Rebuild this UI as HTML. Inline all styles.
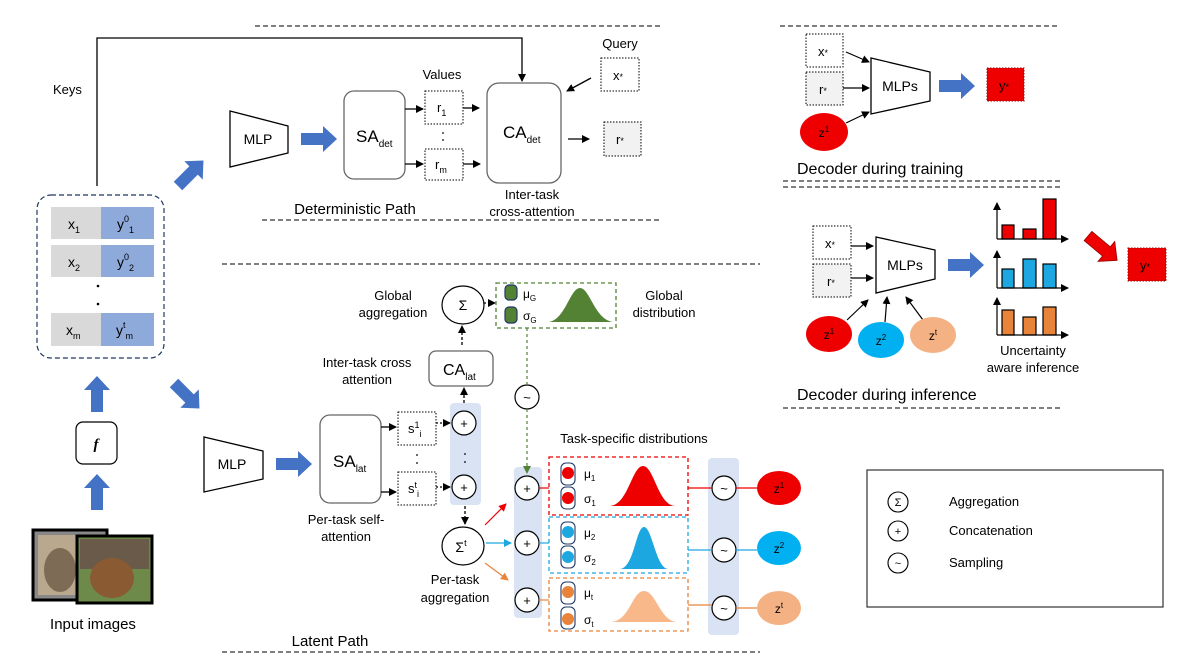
<!DOCTYPE html>
<html><head><meta charset="utf-8"><style>
html,body{margin:0;padding:0;background:#fff;}
svg{display:block;font-family:"Liberation Sans",Arial,sans-serif;}
</style></head><body>
<svg width="1192" height="658" viewBox="0 0 1192 658" xmlns="http://www.w3.org/2000/svg">
<defs>
<marker id="ah" markerWidth="8" markerHeight="8" refX="7" refY="4" orient="auto" markerUnits="userSpaceOnUse"><path d="M0,0 L8,4 L0,8 z" fill="#000"/></marker>
<marker id="ahg" markerWidth="8" markerHeight="8" refX="7" refY="4" orient="auto" markerUnits="userSpaceOnUse"><path d="M0,0 L8,4 L0,8 z" fill="#548235"/></marker>
<marker id="ahr" markerWidth="8" markerHeight="8" refX="7" refY="4" orient="auto" markerUnits="userSpaceOnUse"><path d="M0,0 L8,4 L0,8 z" fill="#e00"/></marker>
<marker id="ahb" markerWidth="8" markerHeight="8" refX="7" refY="4" orient="auto" markerUnits="userSpaceOnUse"><path d="M0,0 L8,4 L0,8 z" fill="#1ca7e0"/></marker>
<marker id="aho" markerWidth="8" markerHeight="8" refX="7" refY="4" orient="auto" markerUnits="userSpaceOnUse"><path d="M0,0 L8,4 L0,8 z" fill="#e8833a"/></marker>
<polygon id="barr" points="0,-6 22,-6 22,-13 36,0 22,13 22,6 0,6" fill="#4472c4"/>
</defs>

<!-- dashed separators -->
<g stroke="#333" stroke-width="1.2" stroke-dasharray="5,3">
<line x1="255" y1="26" x2="660" y2="26"/>
<line x1="262" y1="220" x2="660" y2="220"/>
<line x1="222" y1="264" x2="760" y2="264"/>
<line x1="222" y1="652" x2="760" y2="652"/>
<line x1="780" y1="26" x2="1060" y2="26"/>
<line x1="783" y1="181" x2="1063" y2="181"/>
<line x1="783" y1="187" x2="1063" y2="187"/>
<line x1="783" y1="408" x2="1063" y2="408"/>
</g>

<!-- Keys line -->
<polyline points="97,186 97,38 522,38 522,81" fill="none" stroke="#000" stroke-width="1.3" marker-end="url(#ah)"/>
<text x="53" y="94" font-size="13">Keys</text>

<!-- context box -->
<rect x="37" y="195" width="127" height="163" rx="14" fill="none" stroke="#1f3864" stroke-width="1.2" stroke-dasharray="5,3"/>
<g font-size="14">
<rect x="51" y="207" width="50" height="32" fill="#d9d9d9"/><rect x="101" y="207" width="53" height="32" fill="#8eaadb"/>
<rect x="51" y="245" width="50" height="32" fill="#d9d9d9"/><rect x="101" y="245" width="53" height="32" fill="#8eaadb"/>
<rect x="51" y="313" width="50" height="33" fill="#d9d9d9"/><rect x="101" y="313" width="53" height="33" fill="#8eaadb"/>
<text x="68" y="229">x<tspan font-size="9" dy="4">1</tspan></text>
<text x="117" y="229">y<tspan font-size="9" dy="-7">0</tspan><tspan font-size="9" dy="11">1</tspan></text>
<text x="68" y="267">x<tspan font-size="9" dy="4">2</tspan></text>
<text x="117" y="267">y<tspan font-size="9" dy="-7">0</tspan><tspan font-size="9" dy="11">2</tspan></text>
<text x="66" y="335">x<tspan font-size="9" dy="4">m</tspan></text>
<text x="116" y="335">y<tspan font-size="9" dy="-7">t</tspan><tspan font-size="9" dy="11">m</tspan></text>
</g>
<circle cx="98" cy="286" r="1.3"/><circle cx="98" cy="304" r="1.3"/>

<!-- blue arrows left -->
<use href="#barr" transform="translate(178,186) rotate(-45)"/>
<use href="#barr" transform="translate(174,383) rotate(45)"/>
<use href="#barr" transform="translate(97,412) rotate(-90)"/>
<use href="#barr" transform="translate(97,510) rotate(-90)"/>
<rect x="76" y="422" width="41" height="42" rx="7" fill="#fff" stroke="#000" stroke-width="1.2"/>
<text x="96" y="449" font-size="15" font-style="italic" font-weight="bold" text-anchor="middle" font-family="Liberation Serif,serif">f</text>

<!-- input images -->
<rect x="33" y="530" width="74" height="70" fill="#888" stroke="#000" stroke-width="3"/>
<rect x="38" y="535" width="64" height="60" fill="#b9a88e"/>
<ellipse cx="60" cy="570" rx="16" ry="22" fill="#7d6b55"/>
<rect x="77" y="536" width="75" height="67" fill="#6e8a4a" stroke="#000" stroke-width="3"/>
<rect x="80" y="539" width="69" height="30" fill="#6a5a4a"/>
<ellipse cx="112" cy="578" rx="22" ry="20" fill="#8a5a32"/>
<text x="93" y="629" font-size="15" text-anchor="middle">Input images</text>

<!-- Deterministic path -->
<polygon points="230,111 288,126 288,153 230,167" fill="#fff" stroke="#000" stroke-width="1.3"/>
<text x="258" y="144" font-size="14" text-anchor="middle">MLP</text>
<use href="#barr" transform="translate(301,139)"/>
<rect x="344" y="91" width="61" height="88" rx="10" fill="#fff" stroke="#666" stroke-width="1.3"/>
<text x="356" y="142" font-size="17">SA<tspan font-size="10" dy="5">det</tspan></text>
<text x="442" y="79" font-size="13" text-anchor="middle">Values</text>
<rect x="425" y="91" width="38" height="33" fill="#fff" stroke="#000" stroke-dasharray="1.5,1.5"/>
<rect x="425" y="149" width="38" height="31" fill="#fff" stroke="#000" stroke-dasharray="1.5,1.5"/>
<text x="437" y="112" font-size="13">r<tspan font-size="9" dy="4">1</tspan></text>
<text x="435" y="169" font-size="13">r<tspan font-size="9" dy="4">m</tspan></text>
<circle cx="443" cy="133" r="0.9"/><circle cx="443" cy="140" r="0.9"/>
<g stroke="#000" stroke-width="1.3" fill="none">
<line x1="405" y1="109" x2="423" y2="109" marker-end="url(#ah)"/>
<line x1="405" y1="164" x2="423" y2="164" marker-end="url(#ah)"/>
<line x1="463" y1="108" x2="479" y2="108" marker-end="url(#ah)"/>
<line x1="463" y1="164" x2="480" y2="164" marker-end="url(#ah)"/>
<line x1="591" y1="78" x2="567" y2="91" marker-end="url(#ah)"/>
<line x1="568" y1="139" x2="589" y2="139" marker-end="url(#ah)"/>
</g>
<rect x="487" y="83" width="74" height="100" rx="12" fill="#fff" stroke="#666" stroke-width="1.3"/>
<text x="503" y="138" font-size="17">CA<tspan font-size="10" dy="5">det</tspan></text>
<text x="620" y="48" font-size="13" text-anchor="middle">Query</text>
<rect x="601" y="58" width="38" height="33" fill="#fff" stroke="#000" stroke-dasharray="1.5,1.5"/>
<text x="613" y="80" font-size="13">x<tspan font-size="9">*</tspan></text>
<rect x="604" y="122" width="37" height="34" fill="#f2f2f2" stroke="#000" stroke-dasharray="1.5,1.5"/>
<text x="616" y="144" font-size="13">r<tspan font-size="9">*</tspan></text>
<text x="532" y="199" font-size="13" text-anchor="middle">Inter-task</text>
<text x="532" y="216" font-size="13" text-anchor="middle">cross-attention</text>
<text x="355" y="214" font-size="15" text-anchor="middle">Deterministic Path</text>

<!-- Latent path -->
<polygon points="204,437 263,451 263,479 204,492" fill="#fff" stroke="#000" stroke-width="1.3"/>
<text x="232" y="469" font-size="14" text-anchor="middle">MLP</text>
<use href="#barr" transform="translate(276,464)"/>
<rect x="320" y="415" width="61" height="88" rx="10" fill="#fff" stroke="#666" stroke-width="1.3"/>
<text x="333" y="467" font-size="17">SA<tspan font-size="10" dy="5">lat</tspan></text>
<rect x="398" y="412" width="38" height="33" fill="#fff" stroke="#000" stroke-dasharray="1.5,1.5"/>
<rect x="398" y="472" width="38" height="33" fill="#fff" stroke="#000" stroke-dasharray="1.5,1.5"/>
<text x="408" y="433" font-size="13">s<tspan font-size="9" dy="-5">1</tspan><tspan font-size="9" dy="9">i</tspan></text>
<text x="408" y="493" font-size="13">s<tspan font-size="9" dy="-5">t</tspan><tspan font-size="9" dy="9">i</tspan></text>
<circle cx="417" cy="455" r="0.9"/><circle cx="417" cy="463" r="0.9"/>
<rect x="450" y="403" width="31" height="102" rx="4" fill="#dae3f3"/>
<rect x="514" y="467" width="28" height="151" rx="4" fill="#dae3f3"/>
<rect x="708" y="458" width="31" height="177" rx="4" fill="#dae3f3"/>
<g stroke="#000" stroke-width="1.3" fill="none">
<line x1="381" y1="427" x2="396" y2="427" marker-end="url(#ah)"/>
<line x1="381" y1="492" x2="396" y2="492" marker-end="url(#ah)"/>
<line x1="436" y1="423" x2="450" y2="423" stroke-dasharray="2,2" marker-end="url(#ah)"/>
<line x1="436" y1="487" x2="450" y2="487" stroke-dasharray="2,2" marker-end="url(#ah)"/>
<line x1="464" y1="403" x2="464" y2="388" stroke-dasharray="3,2" marker-end="url(#ah)"/>
<line x1="462" y1="345" x2="462" y2="326" stroke-dasharray="3,2" marker-end="url(#ah)"/>
<line x1="465" y1="506" x2="465" y2="524" stroke-dasharray="3,2" marker-end="url(#ah)"/>
<line x1="484" y1="303" x2="495" y2="303" stroke-dasharray="2,2" marker-end="url(#ah)"/>
</g>
<g fill="#fff" stroke="#000" stroke-width="1.2">
<circle cx="464" cy="423" r="12"/><circle cx="464" cy="487" r="12"/>
<circle cx="527" cy="488" r="12"/><circle cx="527" cy="543" r="12"/><circle cx="527" cy="600" r="12"/>
<circle cx="724" cy="488" r="12"/><circle cx="724" cy="550" r="12"/><circle cx="724" cy="608" r="12"/>
<circle cx="527" cy="397" r="12"/>
<ellipse cx="463" cy="305" rx="21" ry="19"/>
<ellipse cx="463" cy="546" rx="21" ry="19"/>
</g>
<g font-size="13" text-anchor="middle">
<text x="464" y="428">+</text><text x="464" y="492">+</text>
<text x="527" y="493">+</text><text x="527" y="548">+</text><text x="527" y="605">+</text>
<text x="724" y="493">~</text><text x="724" y="555">~</text><text x="724" y="613">~</text>
<text x="527" y="402">~</text>
<text x="463" y="310" font-size="14">Σ</text>
<text x="461" y="552" font-size="14">Σ<tspan font-size="9" dy="-6">t</tspan></text>
</g>
<circle cx="465" cy="454" r="0.9"/><circle cx="465" cy="462" r="0.9"/>
<rect x="429" y="351" width="64" height="35" rx="7" fill="#fff" stroke="#666" stroke-width="1.3"/>
<text x="443" y="375" font-size="16">CA<tspan font-size="10" dy="5">lat</tspan></text>
<g font-size="13" text-anchor="middle">
<text x="393" y="300">Global</text><text x="393" y="317">aggregation</text>
<text x="367" y="367">Inter-task cross</text><text x="367" y="384">attention</text>
<text x="346" y="524">Per-task self-</text><text x="346" y="541">attention</text>
<text x="455" y="584">Per-task</text><text x="455" y="602">aggregation</text>
<text x="664" y="300">Global</text><text x="664" y="317">distribution</text>
<text x="634" y="443">Task-specific distributions</text>
</g>
<text x="330" y="646" font-size="15" text-anchor="middle">Latent Path</text>

<!-- global distribution -->
<rect x="496" y="283" width="120" height="45" fill="#fff" stroke="#548235" stroke-width="1.3" stroke-dasharray="4,3"/>
<g stroke="#1f3864" stroke-width="1.2"><rect x="505" y="285" width="12" height="15" rx="4" fill="#548235"/><rect x="505" y="307" width="12" height="16" rx="4" fill="#548235"/></g>
<text x="523" y="298" font-size="12">μ<tspan font-size="8" dy="3">G</tspan></text>
<text x="523" y="320" font-size="12">σ<tspan font-size="8" dy="3">G</tspan></text>
<path d="M548,322 C565,321 570,288 580,288 C590,288 595,321 614,322 Z" fill="#548235"/>
<line x1="527" y1="328" x2="527" y2="385" stroke="#548235" stroke-width="1.2" stroke-dasharray="3,3"/>
<line x1="527" y1="409" x2="527" y2="473" stroke="#548235" stroke-width="1.2" stroke-dasharray="3,3" marker-end="url(#ahg)"/>

<!-- colored arrows from Σt -->
<line x1="485" y1="525" x2="506" y2="504" stroke="#e00" stroke-width="1.2" marker-end="url(#ahr)"/>
<line x1="486" y1="543" x2="511" y2="543" stroke="#1ca7e0" stroke-width="1.2" marker-end="url(#ahb)"/>
<line x1="485" y1="563" x2="508" y2="580" stroke="#e8833a" stroke-width="1.2" marker-end="url(#aho)"/>

<!-- task boxes -->
<rect x="549" y="457" width="139" height="58" fill="#fff" stroke="#e00" stroke-width="1.3" stroke-dasharray="4,3"/>
<rect x="549" y="517" width="139" height="56" fill="#fff" stroke="#1ca7e0" stroke-width="1.3" stroke-dasharray="4,3"/>
<rect x="549" y="578" width="139" height="53" fill="#fff" stroke="#e8833a" stroke-width="1.3" stroke-dasharray="4,3"/>
<g stroke="#1f3864" stroke-width="1.1">
<rect x="561" y="463" width="14" height="22" rx="5" fill="#fff"/><rect x="561" y="487" width="14" height="22" rx="5" fill="#fff"/>
<rect x="561" y="522" width="14" height="22" rx="5" fill="#fff"/><rect x="561" y="546" width="14" height="22" rx="5" fill="#fff"/>
<rect x="561" y="582" width="14" height="22" rx="5" fill="#fff"/><rect x="561" y="607" width="14" height="22" rx="5" fill="#fff"/>
</g>
<g stroke="none">
<circle cx="568" cy="473" r="6" fill="#e00"/><circle cx="568" cy="498" r="6" fill="#e00"/>
<circle cx="568" cy="532" r="6" fill="#1ca7e0"/><circle cx="568" cy="557" r="6" fill="#1ca7e0"/>
<circle cx="568" cy="592" r="6" fill="#e8833a"/><circle cx="568" cy="619" r="6" fill="#e8833a"/>
</g>
<g font-size="12">
<text x="584" y="478">μ<tspan font-size="8" dy="3">1</tspan></text><text x="584" y="503">σ<tspan font-size="8" dy="3">1</tspan></text>
<text x="584" y="537">μ<tspan font-size="8" dy="3">2</tspan></text><text x="584" y="562">σ<tspan font-size="8" dy="3">2</tspan></text>
<text x="584" y="597">μ<tspan font-size="8" dy="3">t</tspan></text><text x="584" y="624">σ<tspan font-size="8" dy="3">t</tspan></text>
</g>
<path d="M610,506 C628,505 632,466 643,466 C654,466 658,505 675,506 Z" fill="#e00"/>
<path d="M620,569 C634,568 636,527 644,527 C652,527 656,568 668,569 Z" fill="#1ca7e0"/>
<path d="M611,622 C630,621 632,591 644,591 C656,591 660,621 677,622 Z" fill="#f8b88a"/>
<g stroke-width="1.2">
<line x1="539" y1="488" x2="549" y2="488" stroke="#e00"/><line x1="688" y1="488" x2="712" y2="488" stroke="#e00"/><line x1="736" y1="488" x2="757" y2="488" stroke="#e00"/>
<line x1="539" y1="543" x2="549" y2="543" stroke="#1ca7e0"/><line x1="688" y1="550" x2="712" y2="550" stroke="#1ca7e0"/><line x1="736" y1="550" x2="757" y2="550" stroke="#1ca7e0"/>
<line x1="539" y1="600" x2="549" y2="600" stroke="#e8833a"/><line x1="688" y1="605" x2="712" y2="605" stroke="#e8833a"/><line x1="736" y1="608" x2="757" y2="608" stroke="#e8833a"/>
</g>
<ellipse cx="779" cy="488" rx="22" ry="17" fill="#e00"/>
<ellipse cx="779" cy="548" rx="22" ry="17" fill="#00b0f0"/>
<ellipse cx="779" cy="608" rx="22" ry="17" fill="#f4b183"/>
<g font-size="12" text-anchor="middle">
<text x="779" y="493">z<tspan font-size="8" dy="-5">1</tspan></text>
<text x="779" y="553">z<tspan font-size="8" dy="-5">2</tspan></text>
<text x="779" y="613">z<tspan font-size="8" dy="-5">t</tspan></text>
</g>

<!-- legend -->
<rect x="867" y="470" width="296" height="137" fill="#fff" stroke="#333" stroke-width="1.2"/>
<g fill="#fff" stroke="#000" stroke-width="1.1"><circle cx="898" cy="502" r="10"/><circle cx="898" cy="531" r="10"/><circle cx="898" cy="563" r="10"/></g>
<g font-size="11" text-anchor="middle"><text x="898" y="506">Σ</text><text x="898" y="535">+</text><text x="898" y="567">~</text></g>
<g font-size="13"><text x="949" y="506">Aggregation</text><text x="949" y="535">Concatenation</text><text x="949" y="567">Sampling</text></g>

<!-- Decoder training -->
<rect x="806" y="34" width="37" height="33" fill="#fff" stroke="#000" stroke-dasharray="1.5,1.5"/>
<rect x="806" y="72" width="37" height="33" fill="#f2f2f2" stroke="#000" stroke-dasharray="1.5,1.5"/>
<text x="818" y="56" font-size="13">x<tspan font-size="9">*</tspan></text>
<text x="819" y="94" font-size="13">r<tspan font-size="9">*</tspan></text>
<ellipse cx="824" cy="132" rx="24" ry="19" fill="#e00"/>
<text x="824" y="137" font-size="12" text-anchor="middle">z<tspan font-size="8" dy="-5">1</tspan></text>
<polygon points="871,58 930,72 930,101 871,114" fill="#fff" stroke="#000" stroke-width="1.3"/>
<text x="900" y="91" font-size="14" text-anchor="middle">MLPs</text>
<g stroke="#000" stroke-width="1.2">
<line x1="846" y1="52" x2="869" y2="62" marker-end="url(#ah)"/>
<line x1="843" y1="88" x2="869" y2="88" marker-end="url(#ah)"/>
<line x1="846" y1="123" x2="869" y2="112" marker-end="url(#ah)"/>
</g>
<use href="#barr" transform="translate(939,86)"/>
<rect x="987" y="68" width="37" height="33" fill="#e00" stroke="#900" stroke-dasharray="1.5,1.5"/>
<text x="999" y="90" font-size="13">y<tspan font-size="9">*</tspan></text>
<text x="797" y="174" font-size="16">Decoder during training</text>

<!-- Decoder inference -->
<rect x="813" y="226" width="38" height="33" fill="#fff" stroke="#000" stroke-dasharray="1.5,1.5"/>
<rect x="813" y="264" width="38" height="33" fill="#f2f2f2" stroke="#000" stroke-dasharray="1.5,1.5"/>
<text x="825" y="248" font-size="13">x<tspan font-size="9">*</tspan></text>
<text x="827" y="286" font-size="13">r<tspan font-size="9">*</tspan></text>
<polygon points="876,237 935,250 935,279 876,293" fill="#fff" stroke="#000" stroke-width="1.3"/>
<text x="905" y="270" font-size="14" text-anchor="middle">MLPs</text>
<g stroke="#000" stroke-width="1.2">
<line x1="851" y1="246" x2="873" y2="246" marker-end="url(#ah)"/>
<line x1="851" y1="278" x2="873" y2="278" marker-end="url(#ah)"/>
<line x1="847" y1="320" x2="868" y2="300" marker-end="url(#ah)"/>
<line x1="885" y1="322" x2="887" y2="297" marker-end="url(#ah)"/>
<line x1="923" y1="320" x2="906" y2="297" marker-end="url(#ah)"/>
</g>
<ellipse cx="829" cy="334" rx="23" ry="18" fill="#e00"/>
<ellipse cx="881" cy="340" rx="23" ry="18" fill="#00b0f0"/>
<ellipse cx="933" cy="335" rx="23" ry="18" fill="#f4b183"/>
<g font-size="12" text-anchor="middle">
<text x="829" y="339">z<tspan font-size="8" dy="-5">1</tspan></text>
<text x="881" y="345">z<tspan font-size="8" dy="-5">2</tspan></text>
<text x="933" y="340">z<tspan font-size="8" dy="-5">t</tspan></text>
</g>
<use href="#barr" transform="translate(948,265)"/>
<!-- charts -->
<g stroke="#000" stroke-width="1.2">
<rect x="1002" y="225" width="12" height="14" fill="#e00"/><rect x="1023" y="229" width="13" height="10" fill="#e00"/><rect x="1043" y="199" width="13" height="40" fill="#e00"/>
<rect x="1002" y="269" width="12" height="19" fill="#1ca7e0"/><rect x="1023" y="259" width="13" height="29" fill="#1ca7e0"/><rect x="1043" y="264" width="13" height="24" fill="#1ca7e0"/>
<rect x="1002" y="310" width="12" height="25" fill="#e8833a"/><rect x="1023" y="317" width="13" height="18" fill="#e8833a"/><rect x="1043" y="307" width="13" height="28" fill="#e8833a"/>
<line x1="997" y1="239" x2="997" y2="203" marker-end="url(#ah)"/><line x1="997" y1="239" x2="1068" y2="239" marker-end="url(#ah)"/>
<line x1="997" y1="288" x2="997" y2="251" marker-end="url(#ah)"/><line x1="997" y1="288" x2="1068" y2="288" marker-end="url(#ah)"/>
<line x1="997" y1="335" x2="997" y2="298" marker-end="url(#ah)"/><line x1="997" y1="335" x2="1068" y2="335" marker-end="url(#ah)"/>
</g>
<polygon points="0,-6 24,-6 24,-13 38,0 24,13 24,6 0,6" fill="#e00" stroke="#900" stroke-width="0.8" transform="translate(1088,236) rotate(40)"/>
<rect x="1128" y="248" width="38" height="33" fill="#e00" stroke="#900" stroke-dasharray="1.5,1.5"/>
<text x="1140" y="270" font-size="13">y<tspan font-size="9">*</tspan></text>
<text x="1033" y="355" font-size="13" text-anchor="middle">Uncertainty</text>
<text x="1033" y="372" font-size="13" text-anchor="middle">aware inference</text>
<text x="797" y="400" font-size="16">Decoder during inference</text>
</svg>
</body></html>
